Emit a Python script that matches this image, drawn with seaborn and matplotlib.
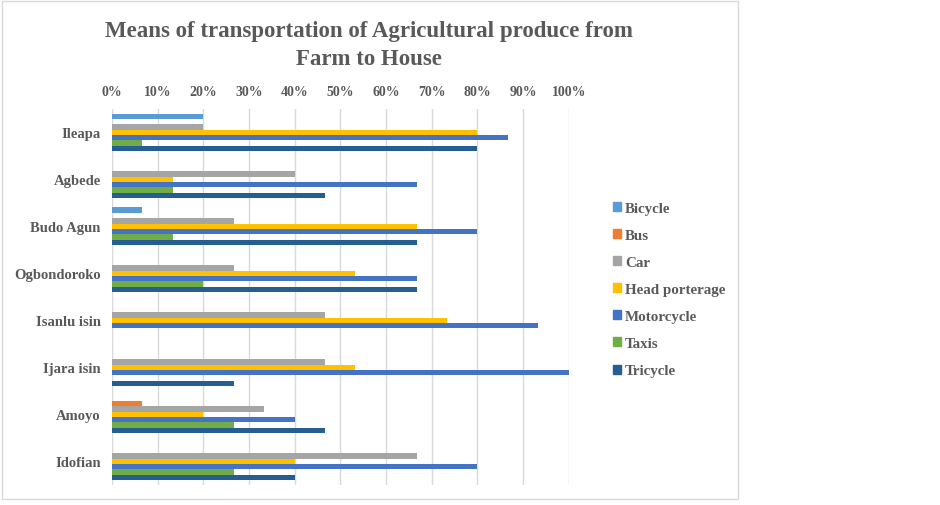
import pandas as pd
import matplotlib.pyplot as plt
import matplotlib.patches as mpatches
import seaborn as sns

# locations, top to bottom as in the chart
locations = ['Ileapa', 'Agbede', 'Budo Agun', 'Ogbondoroko', 'Isanlu isin', 'Ijara isin', 'Amoyo', 'Idofian']
modes = ['Bicycle', 'Bus', 'Car', 'Head porterage', 'Motorcycle', 'Taxis', 'Tricycle']

# share of respondents (fraction) per mode, one list per mode
bicycle = [0.200, 0.0, 0.067, 0.0, 0.0, 0.0, 0.0, 0.0]
bus = [0.0, 0.0, 0.0, 0.0, 0.0, 0.0, 0.067, 0.0]
car = [0.200, 0.400, 0.267, 0.267, 0.467, 0.467, 0.333, 0.667]
head_porterage = [0.800, 0.133, 0.667, 0.533, 0.733, 0.533, 0.200, 0.400]
motorcycle = [0.867, 0.667, 0.800, 0.667, 0.933, 1.000, 0.400, 0.800]
taxis = [0.067, 0.133, 0.133, 0.200, 0.0, 0.0, 0.267, 0.267]
tricycle = [0.800, 0.467, 0.667, 0.667, 0.0, 0.267, 0.467, 0.400]

colors = ['#5B9BD5', '#ED7D31', '#A5A5A5', '#FFC000', '#4472C4', '#70AD47', '#255E91']

series = [bicycle, bus, car, head_porterage, motorcycle, taxis, tricycle]
rows = []
for mode, vals in zip(modes, series):
    for loc, v in zip(locations, vals):
        rows.append({'Location': loc, 'Mode': mode, 'Share': v})
df = pd.DataFrame(rows)

txt = '#595959'
serif = ['Liberation Serif', 'DejaVu Serif']

fig = plt.figure(figsize=(9.4, 5.06), dpi=100)
ax = fig.add_axes([0.119, 0.040, 0.486, 0.743])

sns.barplot(data=df, x='Share', y='Location', hue='Mode', order=locations, hue_order=modes,
            palette=colors, orient='h', width=0.8, saturation=1, linewidth=0, ax=ax)

ax.set_xlim(0, 1.0)
ax.set_xticks([i / 10 for i in range(11)])
ax.set_xticklabels([f'{i * 10}%' for i in range(11)])
ax.xaxis.tick_top()
ax.tick_params(axis='both', length=0, pad=8)
for lab in ax.get_xticklabels():
    lab.set_fontfamily(serif)
    lab.set_fontweight('bold')
    lab.set_color(txt)
    lab.set_fontsize(10)
for lab in ax.get_yticklabels():
    lab.set_fontfamily(serif)
    lab.set_fontweight('bold')
    lab.set_color(txt)
    lab.set_fontsize(10.5)
ax.set_xlabel('')
ax.set_ylabel('')
ax.grid(axis='x', color='#D9D9D9', linewidth=1)
ax.set_axisbelow(True)
for s in ax.spines.values():
    s.set_visible(False)

ax.get_legend().remove()
handles = [mpatches.Patch(color=c, label=m) for c, m in zip(colors, modes)]
fig.legend(handles=handles, loc='upper left', bbox_to_anchor=(0.638, 0.626), frameon=False,
           handlelength=0.55, handleheight=0.55, handletextpad=0.25, labelspacing=0.94,
           prop={'family': serif, 'weight': 'bold', 'size': 10.8}, labelcolor=txt)

fig.text(0.392, 0.910, 'Means of transportation of Agricultural produce from\nFarm to House',
         ha='center', va='center', fontfamily=serif, fontweight='bold', fontsize=16.5,
         color=txt, linespacing=1.42)

# chart frame
fig.patches.append(mpatches.Rectangle((0.002, 0.012), 0.783, 0.984, transform=fig.transFigure,
                                      fill=False, edgecolor='#D9D9D9', linewidth=1))

fig.savefig('out.png', dpi=100)
